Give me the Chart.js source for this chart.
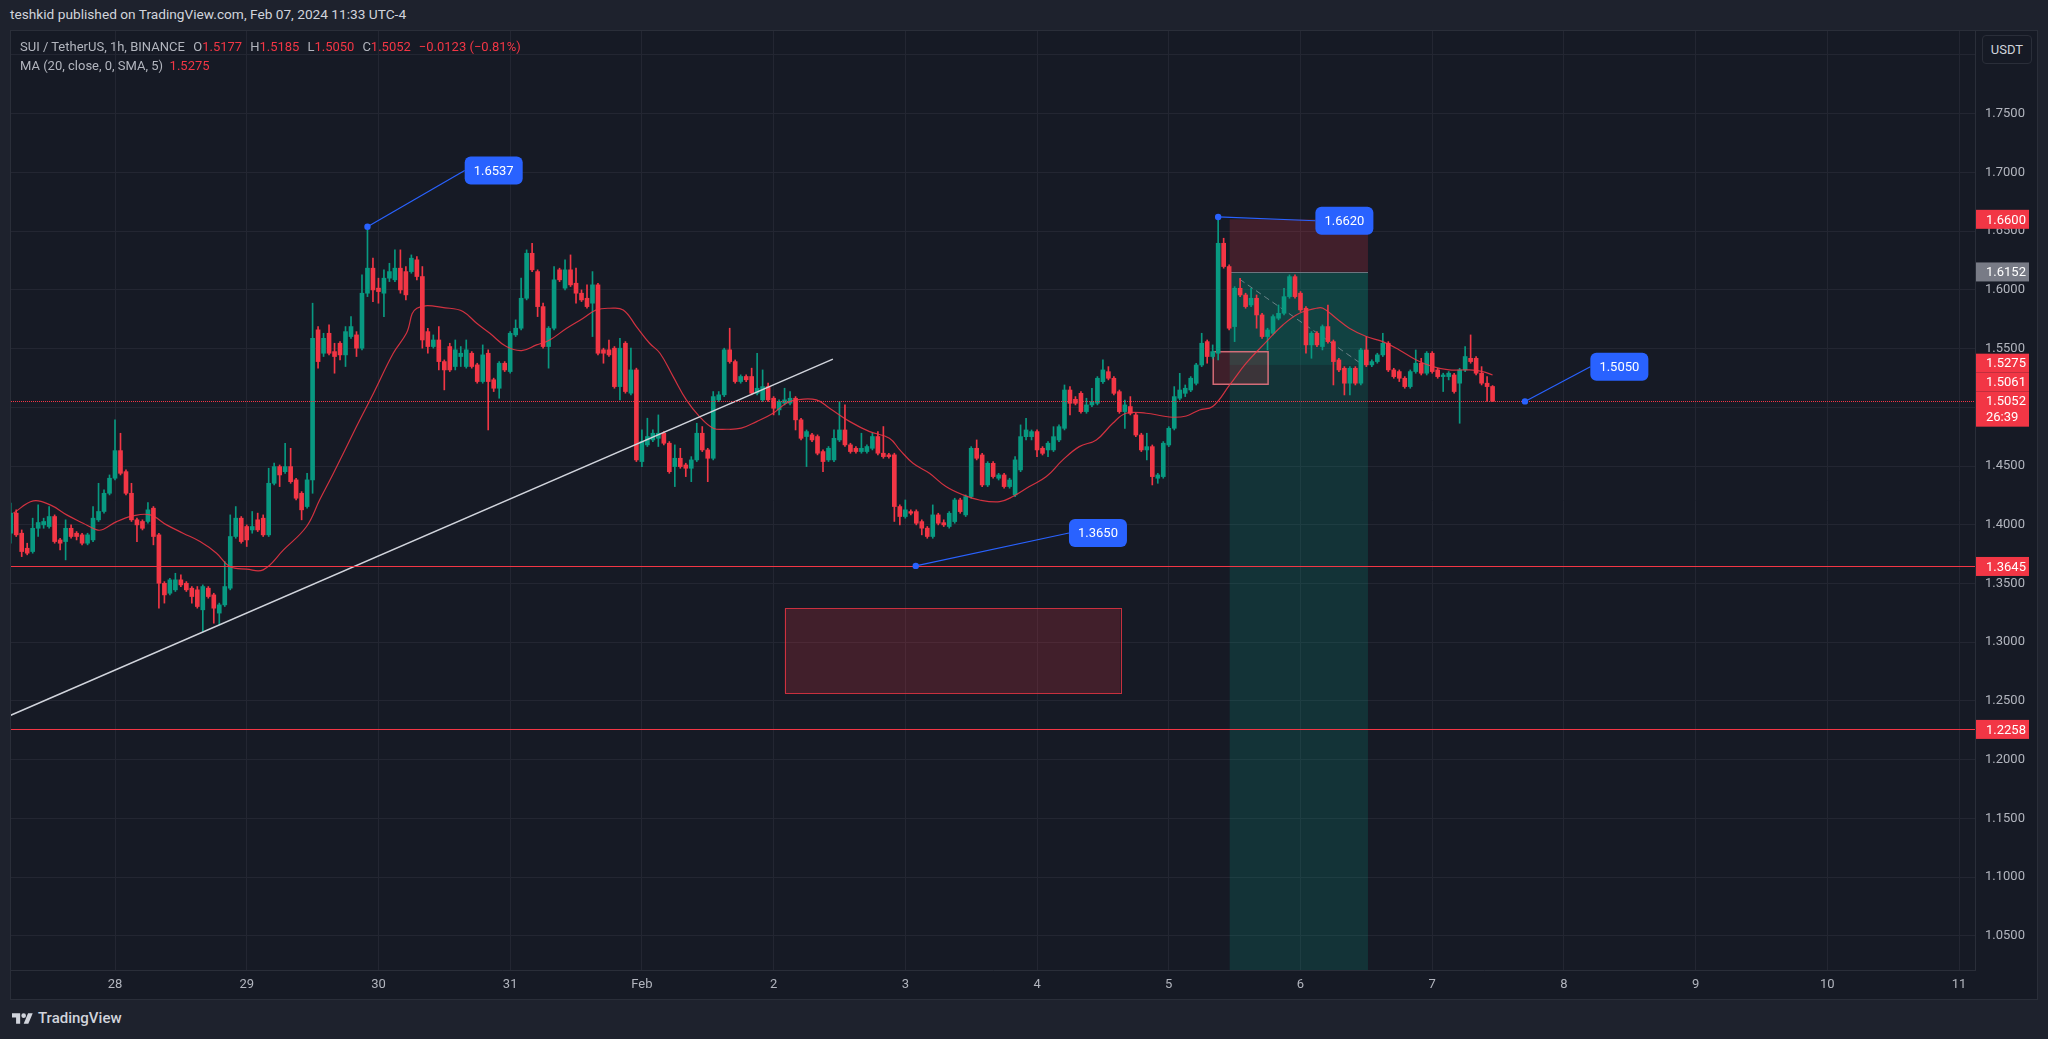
<!DOCTYPE html>
<html>
<head>
<meta charset="utf-8">
<title>SUI / TetherUS, 1h, BINANCE</title>
<script src="https://cdn.jsdelivr.net/npm/chart.js@4.4.1/dist/chart.umd.min.js"></script>
<style>
  html, body { margin: 0; padding: 0; width: 2048px; height: 1039px; overflow: hidden; background: #1e222d; font-family: Roboto, "Liberation Sans", sans-serif; }
  #byline { position: absolute; left: 10px; top: 5px; font-size: 13.7px; line-height: 19px; color: #d1d4dc; }
  #pane { position: absolute; left: 10px; top: 30px; width: 2026px; height: 968px; border: 1px solid #2a2e39; background: #161a25; }
  #chart { position: absolute; left: 0; top: 0; }
  #legend { position: absolute; left: 9px; top: 6px; font-size: 13px; line-height: 19px; color: #b2b5be; z-index: 2; }
  #legend .v { color: #f23645; margin-right: 8px; }
  #legend .k { margin-left: 2px; }
  #unit { position: absolute; left: 1971px; top: 4px; width: 48px; height: 27px; border: 1px solid #2a2e39; border-radius: 4px; background: #161a25; color: #d1d4dc; font-size: 13px; line-height: 27px; text-align: center; z-index: 2; }
  #footer { position: absolute; left: 12px; top: 1009px; height: 18px; display: flex; align-items: center; color: #d1d4dc; font-size: 15px; font-weight: 500; }
  #footer svg { margin-right: 5px; }
</style>
</head>
<body>
<div id="byline">teshkid published on TradingView.com, Feb 07, 2024 11:33 UTC-4</div>
<div id="pane">
  <canvas id="chart" width="2026" height="968"></canvas>
  <div id="legend">
    <div>SUI / TetherUS, 1h, BINANCE&nbsp;&nbsp;<span class="k">O</span><span class="v">1.5177</span><span>H</span><span class="v">1.5185</span><span>L</span><span class="v">1.5050</span><span>C</span><span class="v">1.5052</span><span class="v">−0.0123 (−0.81%)</span></div>
    <div>MA (20, close, 0, SMA, 5)&nbsp;&nbsp;<span class="v">1.5275</span></div>
  </div>
  <div id="unit">USDT</div>
</div>
<div id="footer"><svg width="21" height="14" viewBox="0 0 36 24"><path fill="#d1d4dc" d="M14 22H7V11H0V4h14v18z"/><circle fill="#d1d4dc" cx="20" cy="8" r="4"/><path fill="#d1d4dc" d="M28 22h-8l7.5-18h8L28 22z"/></svg><span>TradingView</span></div>

<script>
// hours are counted from Jan 28 00:00 (UTC-4); first candle is Jan 27 05:00
const startHour = -19;

const open = [
  1.3928, 1.4099, 1.3928, 1.3800, 1.3772, 1.3970, 1.3999, 1.3985, 1.4070, 1.3871,
  1.3857, 1.3970, 1.3928, 1.3914, 1.3843, 1.3871, 1.4042, 1.4113, 1.4268, 1.4396,
  1.4631, 1.4452, 1.4268, 1.4042, 1.4028, 1.4028, 1.4141, 1.3914, 1.3502, 1.3417,
  1.3446, 1.3531, 1.3502, 1.3460, 1.3446, 1.3276, 1.3460, 1.3403, 1.3248, 1.3318,
  1.3460, 1.3900, 1.4056, 1.3985, 1.3956, 1.4042, 1.4056, 1.3914, 1.4353, 1.4495,
  1.4452, 1.4495, 1.4382, 1.4268, 1.4155, 1.4382, 1.5659, 1.5460, 1.5630, 1.5474,
  1.5545, 1.5446, 1.5602, 1.5616, 1.5503, 1.5971, 1.6184, 1.6014, 1.5971, 1.6099,
  1.6085, 1.6184, 1.6155, 1.6155, 1.6255, 1.6113, 1.5644, 1.5517, 1.5573, 1.5389,
  1.5517, 1.5347, 1.5432, 1.5347, 1.5460, 1.5361, 1.5219, 1.5460, 1.5234, 1.5162,
  1.5375, 1.5304, 1.5616, 1.5673, 1.5928, 1.6311, 1.6155, 1.5857, 1.5517, 1.5673,
  1.6170, 1.6014, 1.6170, 1.6056, 1.5971, 1.5928, 1.5886, 1.6042, 1.5489, 1.5489,
  1.5503, 1.5176, 1.5545, 1.5120, 1.5318, 1.4538, 1.4680, 1.4722, 1.4736, 1.4779,
  1.4694, 1.4495, 1.4566, 1.4509, 1.4481, 1.4552, 1.4779, 1.4637, 1.4566, 1.5063,
  1.5106, 1.5489, 1.5389, 1.5219, 1.5262, 1.5262, 1.5120, 1.5063, 1.5176, 1.5077,
  1.4978, 1.5035, 1.5035, 1.5077, 1.4893, 1.4751, 1.4765, 1.4751, 1.4623, 1.4552,
  1.4552, 1.4722, 1.4807, 1.4680, 1.4651, 1.4623, 1.4623, 1.4651, 1.4751, 1.4609,
  1.4595, 1.4595,
  1.4155, 1.4070, 1.4112, 1.4112, 1.4027, 1.3971, 1.3900, 1.4084, 1.4018, 1.3985,
  1.4027, 1.4211, 1.4084, 1.4240, 1.4651, 1.4594, 1.4339, 1.4523, 1.4396, 1.4424,
  1.4325, 1.4254, 1.4467, 1.4750, 1.4750, 1.4793, 1.4651, 1.4637, 1.4637, 1.4722,
  1.4821, 1.5147, 1.5068, 1.5119, 1.4963, 1.5020, 1.5034, 1.5218, 1.5303, 1.5247,
  1.5133, 1.4963, 1.5006, 1.4935, 1.4764, 1.4637, 1.4665, 1.4396, 1.4410, 1.4679,
  1.4821, 1.5077, 1.5119, 1.5147, 1.5204, 1.5360,
  1.5559, 1.5432, 1.5460, 1.6396, 1.6198, 1.5687, 1.6013, 1.5956, 1.5871, 1.5928,
  1.5786, 1.5602, 1.5630, 1.5758, 1.5800, 1.5942, 1.6112, 1.5971, 1.5843, 1.5531,
  1.5630, 1.5517, 1.5687, 1.5559, 1.5403, 1.5332, 1.5205, 1.5332, 1.5205, 1.5488,
  1.5361, 1.5389, 1.5446, 1.5545, 1.5318, 1.5304, 1.5247, 1.5176, 1.5304, 1.5375,
  1.5290, 1.5460, 1.5318, 1.5261, 1.5261, 1.5275, 1.5205, 1.5318, 1.5417, 1.5417,
  1.5290, 1.5205, 1.5177
];

const high = [
  1.4184, 1.4127, 1.3956, 1.3843, 1.4056, 1.4170, 1.4056, 1.4155, 1.4084, 1.3885,
  1.4042, 1.3999, 1.3942, 1.3928, 1.3928, 1.4155, 1.4353, 1.4297, 1.4424, 1.4893,
  1.4779, 1.4467, 1.4353, 1.4056, 1.4042, 1.4189, 1.4155, 1.3928, 1.3516, 1.3545,
  1.3587, 1.3573, 1.3516, 1.3474, 1.3474, 1.3488, 1.3474, 1.3417, 1.3333, 1.3687,
  1.4084, 1.4155, 1.4070, 1.3999, 1.4113, 1.4099, 1.4084, 1.4481, 1.4524, 1.4509,
  1.4694, 1.4651, 1.4396, 1.4282, 1.4438, 1.5886, 1.5687, 1.5630, 1.5701, 1.5545,
  1.5559, 1.5687, 1.5772, 1.5644, 1.6127, 1.6537, 1.6269, 1.6099, 1.6170, 1.6226,
  1.6340, 1.6340, 1.6198, 1.6297, 1.6283, 1.6198, 1.5673, 1.5616, 1.5687, 1.5403,
  1.5545, 1.5573, 1.5517, 1.5573, 1.5474, 1.5375, 1.5531, 1.5489, 1.5248, 1.5389,
  1.5389, 1.5644, 1.5744, 1.6099, 1.6340, 1.6396, 1.6170, 1.5886, 1.5687, 1.6198,
  1.6184, 1.6255, 1.6297, 1.6184, 1.5999, 1.6042, 1.6155, 1.6056, 1.5503, 1.5573,
  1.5517, 1.5587, 1.5559, 1.5503, 1.5333, 1.4807, 1.4907, 1.4807, 1.4935, 1.4793,
  1.4708, 1.4680, 1.4651, 1.4524, 1.4580, 1.4864, 1.4836, 1.4651, 1.5134, 1.5134,
  1.5503, 1.5673, 1.5403, 1.5276, 1.5276, 1.5333, 1.5460, 1.5318, 1.5205, 1.5091,
  1.5063, 1.5162, 1.5134, 1.5091, 1.4907, 1.4807, 1.4779, 1.4765, 1.4637, 1.4666,
  1.4807, 1.5049, 1.5020, 1.4694, 1.4666, 1.4779, 1.4680, 1.4779, 1.4793, 1.4836,
  1.4609, 1.4609,
  1.4169, 1.4211, 1.4127, 1.4127, 1.4042, 1.3985, 1.4169, 1.4098, 1.4042, 1.4112,
  1.4226, 1.4226, 1.4254, 1.4665, 1.4722, 1.4608, 1.4537, 1.4537, 1.4438, 1.4438,
  1.4396, 1.4580, 1.4850, 1.4906, 1.4807, 1.4807, 1.4665, 1.4708, 1.4835, 1.4850,
  1.5190, 1.5176, 1.5091, 1.5133, 1.5077, 1.5162, 1.5261, 1.5403, 1.5346, 1.5261,
  1.5147, 1.5062, 1.5091, 1.4949, 1.4779, 1.4779, 1.4679, 1.4438, 1.4708, 1.4835,
  1.5176, 1.5289, 1.5190, 1.5261, 1.5374, 1.5630,
  1.5573, 1.5531, 1.6620, 1.6439, 1.6212, 1.6027, 1.6098, 1.5971, 1.6013, 1.5956,
  1.5800, 1.5673, 1.5786, 1.5871, 1.6013, 1.6127, 1.6127, 1.5985, 1.5857, 1.5644,
  1.5644, 1.5701, 1.5871, 1.5573, 1.5417, 1.5346, 1.5346, 1.5346, 1.5502, 1.5602,
  1.5403, 1.5460, 1.5630, 1.5559, 1.5332, 1.5318, 1.5261, 1.5318, 1.5488, 1.5417,
  1.5474, 1.5474, 1.5332, 1.5290, 1.5304, 1.5290, 1.5332, 1.5517, 1.5616, 1.5432,
  1.5346, 1.5261, 1.5185
];

const low = [
  1.3843, 1.3900, 1.3729, 1.3744, 1.3758, 1.3900, 1.3970, 1.3970, 1.3843, 1.3786,
  1.3701, 1.3885, 1.3871, 1.3829, 1.3829, 1.3857, 1.4028, 1.4099, 1.4254, 1.4382,
  1.4424, 1.4254, 1.4028, 1.3857, 1.3956, 1.4013, 1.3829, 1.3290, 1.3333, 1.3403,
  1.3432, 1.3474, 1.3432, 1.3333, 1.3290, 1.3091, 1.3375, 1.3162, 1.3148, 1.3304,
  1.3446, 1.3885, 1.3843, 1.3815, 1.3928, 1.3942, 1.3900, 1.3900, 1.4339, 1.4325,
  1.4438, 1.4353, 1.4212, 1.4042, 1.4141, 1.4268, 1.5333, 1.5432, 1.5446, 1.5290,
  1.5403, 1.5347, 1.5587, 1.5432, 1.5489, 1.5942, 1.5900, 1.5886, 1.5772, 1.6070,
  1.6070, 1.5971, 1.5914, 1.6141, 1.6085, 1.5503, 1.5460, 1.5503, 1.5318, 1.5148,
  1.5304, 1.5318, 1.5347, 1.5333, 1.5333, 1.5205, 1.5205, 1.4807, 1.5134, 1.5077,
  1.5304, 1.5290, 1.5602, 1.5659, 1.5914, 1.6155, 1.5772, 1.5503, 1.5333, 1.5659,
  1.6070, 1.5999, 1.6028, 1.5886, 1.5900, 1.5843, 1.5602, 1.5446, 1.5375, 1.5432,
  1.5162, 1.5063, 1.5120, 1.5106, 1.4538, 1.4495, 1.4666, 1.4708, 1.4666, 1.4680,
  1.4438, 1.4325, 1.4481, 1.4410, 1.4367, 1.4538, 1.4623, 1.4367, 1.4552, 1.5049,
  1.5091, 1.5375, 1.5205, 1.5205, 1.5219, 1.5106, 1.5106, 1.5049, 1.5049, 1.4935,
  1.4935, 1.5020, 1.5020, 1.4807, 1.4722, 1.4495, 1.4708, 1.4595, 1.4452, 1.4538,
  1.4538, 1.4708, 1.4666, 1.4609, 1.4609, 1.4609, 1.4609, 1.4637, 1.4595, 1.4566,
  1.4566, 1.4028,
  1.3999, 1.4056, 1.4084, 1.3999, 1.3914, 1.3885, 1.3885, 1.3999, 1.3985, 1.3971,
  1.4013, 1.4098, 1.4070, 1.4226, 1.4552, 1.4325, 1.4325, 1.4396, 1.4381, 1.4311,
  1.4311, 1.4240, 1.4452, 1.4722, 1.4722, 1.4580, 1.4594, 1.4580, 1.4623, 1.4708,
  1.4807, 1.4935, 1.5020, 1.4949, 1.4949, 1.5006, 1.5020, 1.5204, 1.5233, 1.5105,
  1.4949, 1.4821, 1.4935, 1.4750, 1.4623, 1.4552, 1.4339, 1.4353, 1.4396, 1.4665,
  1.4807, 1.5062, 1.5091, 1.5133, 1.5190, 1.5346,
  1.5375, 1.5417, 1.5403, 1.6184, 1.5658, 1.5559, 1.5942, 1.5843, 1.5857, 1.5673,
  1.5587, 1.5488, 1.5616, 1.5744, 1.5786, 1.5928, 1.5928, 1.5815, 1.5460, 1.5417,
  1.5517, 1.5488, 1.5545, 1.5190, 1.5304, 1.5105, 1.5105, 1.5190, 1.5190, 1.5346,
  1.5346, 1.5375, 1.5432, 1.5304, 1.5247, 1.5219, 1.5162, 1.5162, 1.5290, 1.5275,
  1.5275, 1.5290, 1.5247, 1.5134, 1.5233, 1.5120, 1.4864, 1.5304, 1.5375, 1.5275,
  1.5190, 1.5049, 1.5050
];

const close = [
  1.4099, 1.3914, 1.3772, 1.3758, 1.3970, 1.4019, 1.4028, 1.4070, 1.3857, 1.3843,
  1.3970, 1.3900, 1.3900, 1.3843, 1.3914, 1.4056, 1.4113, 1.4268, 1.4396, 1.4631,
  1.4438, 1.4268, 1.4042, 1.3999, 1.3970, 1.4127, 1.3900, 1.3502, 1.3403, 1.3531,
  1.3531, 1.3488, 1.3446, 1.3389, 1.3304, 1.3474, 1.3389, 1.3290, 1.3318, 1.3474,
  1.3900, 1.4056, 1.3857, 1.3871, 1.3985, 1.3956, 1.3914, 1.4353, 1.4495, 1.4424,
  1.4495, 1.4367, 1.4226, 1.4127, 1.4382, 1.5587, 1.5389, 1.5587, 1.5460, 1.5432,
  1.5446, 1.5644, 1.5687, 1.5503, 1.5971, 1.6184, 1.5999, 1.5985, 1.6099, 1.6155,
  1.6184, 1.5999, 1.5957, 1.6269, 1.6113, 1.5573, 1.5517, 1.5573, 1.5389, 1.5318,
  1.5318, 1.5489, 1.5460, 1.5489, 1.5347, 1.5219, 1.5446, 1.5219, 1.5162, 1.5375,
  1.5318, 1.5630, 1.5673, 1.5928, 1.6311, 1.6170, 1.5857, 1.5517, 1.5673, 1.6085,
  1.6085, 1.6170, 1.6042, 1.5971, 1.5914, 1.5857, 1.6042, 1.5460, 1.5460, 1.5446,
  1.5176, 1.5503, 1.5134, 1.5318, 1.4552, 1.4708, 1.4751, 1.4779, 1.4779, 1.4694,
  1.4452, 1.4566, 1.4495, 1.4481, 1.4552, 1.4779, 1.4637, 1.4566, 1.5091, 1.5106,
  1.5489, 1.5389, 1.5219, 1.5262, 1.5234, 1.5120, 1.5162, 1.5176, 1.5063, 1.4992,
  1.5049, 1.5063, 1.5077, 1.4893, 1.4736, 1.4793, 1.4722, 1.4609, 1.4538, 1.4651,
  1.4736, 1.4807, 1.4680, 1.4623, 1.4623, 1.4651, 1.4666, 1.4751, 1.4609, 1.4580,
  1.4580, 1.4155,
  1.4070, 1.4127, 1.4098, 1.4013, 1.3971, 1.3900, 1.4084, 1.4013, 1.3999, 1.4098,
  1.4211, 1.4112, 1.4240, 1.4651, 1.4566, 1.4339, 1.4523, 1.4410, 1.4424, 1.4325,
  1.4381, 1.4552, 1.4750, 1.4807, 1.4793, 1.4637, 1.4608, 1.4694, 1.4750, 1.4835,
  1.5147, 1.5034, 1.5034, 1.4963, 1.5020, 1.5048, 1.5247, 1.5318, 1.5247, 1.5119,
  1.4963, 1.5020, 1.4949, 1.4764, 1.4637, 1.4665, 1.4410, 1.4424, 1.4694, 1.4821,
  1.5091, 1.5147, 1.5162, 1.5247, 1.5360, 1.5545,
  1.5432, 1.5474, 1.6396, 1.6198, 1.5673, 1.6013, 1.5956, 1.5857, 1.5928, 1.5786,
  1.5602, 1.5658, 1.5772, 1.5800, 1.5942, 1.6112, 1.5942, 1.5829, 1.5531, 1.5630,
  1.5531, 1.5687, 1.5559, 1.5389, 1.5318, 1.5205, 1.5332, 1.5205, 1.5488, 1.5361,
  1.5389, 1.5446, 1.5545, 1.5318, 1.5261, 1.5247, 1.5176, 1.5304, 1.5375, 1.5290,
  1.5460, 1.5304, 1.5261, 1.5275, 1.5290, 1.5134, 1.5318, 1.5432, 1.5389, 1.5290,
  1.5205, 1.5176, 1.5052
];

// MA (20, close, 0, SMA, 5)
const maHour = [
  -18.5, -14.9, -11.8, -8.8, -5.8, -3.3, -2.1, 0.3, 3.3, 6.4,
  9.4, 12.4, 15.5, 18.5, 20.9, 24, 27, 30.7, 34.9, 37.3,
  39.8, 44, 47.1, 50.7, 53.1, 55, 61, 63.4, 65.9, 68.3,
  71.3, 74.1, 76.8, 79.2, 82.3, 85.3, 87.7, 90.1, 92.6, 95,
  97.4, 99.3, 101.7, 104.1, 106.5, 109, 111.4, 114.1, 116.9, 119.9,
  122.3, 124.1, 127.8, 130.2, 133.9, 137.5, 141.1, 143, 145.4, 148.4,
  151.4, 154.5, 157.5, 161.2, 163.6, 166.6, 169.7, 172.7, 175.7, 178.8,
  181.8, 184.2, 187.9, 190.9, 192.7, 195.2, 197.6, 200, 203.1, 206.1,
  209.8, 212.8, 215.8, 218.9, 220.1, 222.5, 224.9, 228, 231, 234,
  237.1, 240.1, 243.1, 246.8, 249.2, 251
];
const maValue = [
  1.4099, 1.4203, 1.4169, 1.4084, 1.4013, 1.3956, 1.3962, 1.4027, 1.4076, 1.4084,
  1.3999, 1.3928, 1.3857, 1.3758, 1.3644, 1.3622, 1.3616, 1.3786, 1.3985, 1.4212,
  1.4438, 1.4836, 1.5120, 1.5460, 1.5630, 1.5843, 1.5843, 1.5815, 1.5715, 1.5630,
  1.5517, 1.5483, 1.5531, 1.5573, 1.5673, 1.5758, 1.5829, 1.5843, 1.5829, 1.5687,
  1.5545, 1.5460, 1.5261, 1.5063, 1.4921, 1.4822, 1.4813, 1.4822, 1.4878, 1.4949,
  1.5034, 1.5063, 1.5063, 1.4992, 1.4878, 1.4793, 1.4737, 1.4637, 1.4523, 1.4438,
  1.4325, 1.4254, 1.4211, 1.4197, 1.4240, 1.4325, 1.4410, 1.4552, 1.4665, 1.4722,
  1.4864, 1.4949, 1.4949, 1.4926, 1.4915, 1.4926, 1.4977, 1.5006, 1.5190, 1.5375,
  1.5559, 1.5701, 1.5800, 1.5843, 1.5843, 1.5758, 1.5673, 1.5602, 1.5559, 1.5488,
  1.5403, 1.5346, 1.5318, 1.5318, 1.5304, 1.5275
];

const dayLabels = ['28', '29', '30', '31', 'Feb', '2', '3', '4', '5', '6', '7', '8', '9', '10', '11'];
const priceTicks = [1.05, 1.10, 1.15, 1.20, 1.25, 1.30, 1.35, 1.40, 1.45, 1.50, 1.55, 1.60, 1.65, 1.70, 1.75, 1.80];

// drawings on the chart
const trendHour = [-19, 130.8];
const trendPrice = [1.2379, 1.5410];
const levelPrices = [1.3645, 1.2258];
const lastPrice = 1.5052;
const countdown = '26:39';
const zone = { h0: 122, h1: 183.2, low: 1.2566, high: 1.3289 };
const entryBox = { h0: 200.1, h1: 210.1, low: 1.5196, high: 1.5473 };
const position = { h0: 203.1, h1: 228.3, entry: 1.6152, stop: 1.6600, target: 1.0, reached: 1.5360,
                   pathHour: [204.9, 227.4], pathPrice: [1.6090, 1.5360] };
const callouts = [
  { hour: 46, price: 1.6537, boxHour: 69.0, boxPrice: 1.7016, text: '1.6537' },
  { hour: 201, price: 1.6620, boxHour: 224.0, boxPrice: 1.6588, text: '1.6620' },
  { hour: 145.9, price: 1.3650, boxHour: 179.1, boxPrice: 1.3930, text: '1.3650' },
  { hour: 256.9, price: 1.5050, boxHour: 274.1, boxPrice: 1.5345, text: '1.5050' }
];
const badges = [
  { price: 1.6600, color: '#f23645' },
  { price: 1.6152, color: '#787b86' },
  { price: 1.5275, color: '#f23645' },
  { price: 1.5061, color: '#f23645' },
  { price: 1.5052, color: '#f23645', sub: countdown },
  { price: 1.3645, color: '#f23645' },
  { price: 1.2258, color: '#f23645' }
];

const UP = '#089981', DOWN = '#f23645', GRID = '#232632', FONT = 'Roboto, "Liberation Sans", sans-serif';

const hours = open.map((_, i) => startHour + i);
const candleColors = hours.map((_, i) => close[i] >= open[i] ? UP : DOWN);

const drawings = {
  id: 'drawings',
  beforeDatasetsDraw(chart) {
    const { ctx, chartArea: a, scales: { x, y } } = chart;
    const X = v => x.getPixelForValue(v), Y = v => y.getPixelForValue(v);
    const fillBox = (h0, h1, lo, hi, color) => {
      ctx.fillStyle = color;
      ctx.fillRect(X(h0), Y(hi), X(h1) - X(h0), Y(lo) - Y(hi));
    };
    ctx.save();
    ctx.beginPath(); ctx.rect(a.left, a.top, a.width, a.height); ctx.clip();

    fillBox(zone.h0, zone.h1, zone.low, zone.high, 'rgba(242,54,69,0.2)');
    ctx.strokeStyle = 'rgba(242,54,69,0.8)'; ctx.lineWidth = 1;
    ctx.strokeRect(Math.round(X(zone.h0)) + 0.5, Math.round(Y(zone.high)) + 0.5,
                   Math.round(X(zone.h1) - X(zone.h0)), Math.round(Y(zone.low) - Y(zone.high)));

    fillBox(position.h0, position.h1, position.entry, position.stop, 'rgba(242,54,69,0.2)');
    fillBox(position.h0, position.h1, position.target, position.entry, 'rgba(8,153,129,0.2)');
    fillBox(position.h0, position.h1, position.reached, position.entry, 'rgba(8,153,129,0.15)');
    ctx.strokeStyle = 'rgba(120,123,134,0.9)';
    ctx.beginPath();
    ctx.moveTo(X(position.h0), Math.round(Y(position.entry)) + 0.5);
    ctx.lineTo(X(position.h1), Math.round(Y(position.entry)) + 0.5);
    ctx.stroke();
    ctx.setLineDash([6, 4]);
    ctx.strokeStyle = 'rgba(178,181,190,0.55)';
    ctx.beginPath();
    ctx.moveTo(X(position.pathHour[0]), Y(position.pathPrice[0]));
    ctx.lineTo(X(position.pathHour[1]), Y(position.pathPrice[1]));
    ctx.stroke();
    ctx.setLineDash([]);

    fillBox(entryBox.h0, entryBox.h1, entryBox.low, entryBox.high, 'rgba(242,54,69,0.18)');
    ctx.strokeStyle = 'rgba(242,120,132,0.85)'; ctx.lineWidth = 1.5;
    ctx.strokeRect(X(entryBox.h0), Y(entryBox.high), X(entryBox.h1) - X(entryBox.h0), Y(entryBox.low) - Y(entryBox.high));
    ctx.restore();
  },
  afterDatasetsDraw(chart) {
    const { ctx, chartArea: a, scales: { x, y } } = chart;
    const X = v => x.getPixelForValue(v), Y = v => y.getPixelForValue(v);
    ctx.save();
    ctx.beginPath(); ctx.rect(a.left, a.top, a.width, a.height); ctx.clip();
    ctx.lineWidth = 1;
    ctx.strokeStyle = '#f23645';
    levelPrices.forEach(p => {
      const py = Math.round(Y(p)) + 0.5;
      ctx.beginPath(); ctx.moveTo(a.left, py); ctx.lineTo(a.right, py); ctx.stroke();
    });
    // last price line, dotted
    ctx.setLineDash([1, 1]);
    const ly = Math.round(Y(lastPrice)) + 0.5;
    ctx.beginPath(); ctx.moveTo(a.left, ly); ctx.lineTo(a.right, ly); ctx.stroke();
    ctx.setLineDash([]);

    ctx.font = '13px ' + FONT;
    ctx.textAlign = 'center'; ctx.textBaseline = 'middle';
    callouts.forEach(c => {
      const px = X(c.hour), py = Y(c.price);
      const bx = X(c.boxHour), by = Y(c.boxPrice), bw = 58, bh = 28;
      ctx.strokeStyle = '#2962ff'; ctx.lineWidth = 1.2;
      ctx.beginPath(); ctx.moveTo(px, py); ctx.lineTo(bx - bw / 2, by); ctx.stroke();
      ctx.fillStyle = '#2962ff';
      ctx.beginPath(); ctx.arc(px, py, 3.2, 0, Math.PI * 2); ctx.fill();
      ctx.beginPath(); ctx.roundRect(bx - bw / 2, by - bh / 2, bw, bh, 6); ctx.fill();
      ctx.fillStyle = '#ffffff';
      ctx.fillText(c.text, bx, by + 1);
    });
    ctx.restore();
  },
  afterDraw(chart) {
    const { ctx, scales: { y } } = chart;
    const left = y.left + 1, w = 53, h = 19, sub = 16;
    const items = badges.map(b => ({ ...b, yc: y.getPixelForValue(b.price) }))
      .sort((p, q) => q.yc - p.yc);
    let ceiling = Infinity;
    ctx.save();
    ctx.font = '13px ' + FONT;
    ctx.textAlign = 'left'; ctx.textBaseline = 'middle';
    items.forEach(b => {
      const below = h / 2 + (b.sub ? sub : 0);
      let yc = b.yc;
      if (yc + below > ceiling) yc = ceiling - below;
      ceiling = yc - h / 2;
      ctx.fillStyle = b.color;
      ctx.fillRect(left, yc - h / 2, w, h + (b.sub ? sub : 0));
      ctx.fillStyle = '#ffffff';
      ctx.fillText(b.price.toFixed(4), left + 10, yc + 1);
      if (b.sub) ctx.fillText(b.sub, left + 10, yc + sub + 1);
    });
    ctx.restore();
  }
};

// keep the plot area flush with the pane edges
const noPad = s => { s.paddingTop = 0; s.paddingBottom = 0; s.paddingLeft = 0; s.paddingRight = 0; };

new Chart(document.getElementById('chart'), {
  type: 'bar',
  data: {
    datasets: [
      { type: 'bar', label: 'wicks', data: hours.map((h, i) => ({ x: h, y: [low[i], high[i]] })),
        backgroundColor: candleColors, barThickness: 1, grouped: false, order: 3 },
      { type: 'bar', label: 'bodies', data: hours.map((h, i) => ({ x: h, y: [open[i], close[i]] })),
        backgroundColor: candleColors, barThickness: 4, minBarLength: 1, grouped: false, order: 2 },
      { type: 'line', label: 'MA', data: maHour.map((h, i) => ({ x: h, y: maValue[i] })),
        borderColor: 'rgba(242,54,69,0.85)', borderWidth: 1.2, pointRadius: 0, tension: 0.4, order: 1 },
      { type: 'line', label: 'trend', data: trendHour.map((h, i) => ({ x: h, y: trendPrice[i] })),
        borderColor: '#d1d4dc', borderWidth: 1.5, pointRadius: 0, order: 0 }
    ]
  },
  options: {
    responsive: false,
    devicePixelRatio: 1,
    animation: false,
    events: [],
    layout: { padding: 0 },
    plugins: { legend: { display: false }, tooltip: { enabled: false } },
    scales: {
      x: {
        type: 'linear', min: -18.95, max: 338.9, offset: false,
        afterBuildTicks: s => { s.ticks = dayLabels.map((_, i) => ({ value: i * 24 })); },
        afterFit: s => { s.height = 29; noPad(s); },
        ticks: { color: '#b2b5be', padding: 7, maxRotation: 0, autoSkip: false, font: { size: 13, family: FONT },
                 callback: (v, i) => dayLabels[i] },
        grid: { color: GRID, drawTicks: false, offset: false },
        border: { color: '#2a2e39' }
      },
      y: {
        position: 'right', min: 1.021, max: 1.8203,
        afterBuildTicks: s => { s.ticks = priceTicks.map(v => ({ value: v })); },
        afterFit: s => { s.width = 62; noPad(s); },
        ticks: { color: '#b2b5be', padding: 10, font: { size: 13, family: FONT }, callback: v => v.toFixed(4) },
        grid: { color: GRID, drawTicks: false },
        border: { color: '#2a2e39' }
      }
    }
  },
  plugins: [drawings]
});
</script>
</body>
</html>
